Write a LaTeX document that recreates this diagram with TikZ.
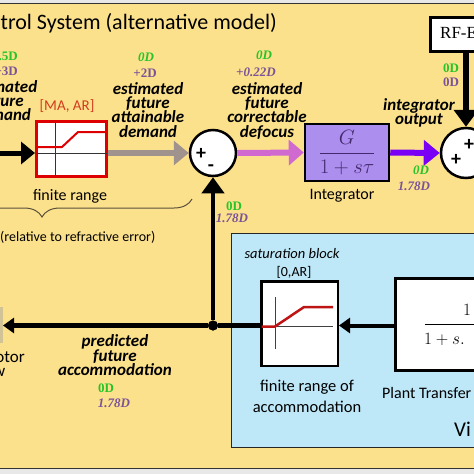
\documentclass[tikz,border=0pt]{standalone}
\usepackage{fontspec}
\setmainfont{Carlito}
\newfontfamily\numfont{Liberation Serif}
\usetikzlibrary{arrows.meta,decorations.pathreplacing}
\definecolor{ybg}{RGB}{252,225,140}
\definecolor{bbg}{RGB}{190,232,248}
\definecolor{pagegray}{RGB}{232,232,232}
\definecolor{redc}{RGB}{222,0,0}
\definecolor{curvered}{RGB}{190,20,20}
\definecolor{mac}{RGB}{210,60,30}
\definecolor{graya}{RGB}{160,146,140}
\definecolor{pinka}{RGB}{208,105,208}
\definecolor{viola}{RGB}{122,0,245}
\definecolor{intc}{RGB}{172,142,238}
\definecolor{fracc}{RGB}{70,40,110}
\definecolor{numg}{RGB}{40,195,40}
\definecolor{nump}{RGB}{122,84,150}
\definecolor{tanc}{RGB}{210,195,150}
\definecolor{brc}{RGB}{90,80,60}
\tikzset{
  lab/.style={font=\fontsize{17}{14.3}\selectfont\bfseries\itshape, align=center, inner sep=0},
  plain/.style={font=\fontsize{16}{20}\selectfont, inner sep=0},
  gnum/.style={text=numg, font=\numfont\fontsize{13}{14}\selectfont\bfseries, inner sep=0},
  gnumi/.style={text=numg, font=\numfont\fontsize{13}{14}\selectfont\bfseries\itshape, inner sep=0},
  pnum/.style={text=nump, font=\numfont\fontsize{13}{14}\selectfont\bfseries, inner sep=0},
  pnumi/.style={text=nump, font=\numfont\fontsize{13}{14}\selectfont\bfseries\itshape, inner sep=0},
  sumc/.style={circle, draw, line width=2.5, fill=white, inner sep=0},
  sgn/.style={font=\fontsize{20}{20}\selectfont\bfseries, inner sep=0},
  blkbox/.style={draw, line width=2.5, fill=white, inner sep=0},
  blkline/.style={line width=4.5},
  inarr/.style={line width=5, -{Triangle[length=14,width=22]}},
  uparr/.style={line width=4.5, -{Triangle[length=16,width=22]}},
  rfarr/.style={line width=5.5, -{Triangle[length=17,width=24]}},
  smarr/.style={line width=4, -{Triangle[length=11,width=15]}},
  grayarr/.style={graya, line width=6, -{Triangle[length=15,width=24]}},
  pinkarr/.style={pinka, line width=6, -{Triangle[length=15,width=25]}},
  violarr/.style={viola, line width=6, -{Triangle[length=16,width=25]}},
}
\begin{document}
\begin{tikzpicture}[x=1pt,y=-1pt]
\useasboundingbox (0,0) rectangle (474,474);
\clip (0,0) rectangle (474,474);
\fill[pagegray] (0,0) rectangle (474,474);
\fill[ybg] (-2,3.5) rectangle (476,468.5);
\draw[black!80, line width=1.3] (-2,3.5) -- (476,3.5);
\draw[black!80, line width=1.3] (-2,468.5) -- (476,468.5);

% title
\node[anchor=base west, inner sep=0, font=\fontsize{22}{26}\selectfont] (title) at (0.5,29) {trol System (alternative model)};

% blue panel
\node[draw=black!85, line width=1.3, fill=bbg, anchor=north west, minimum width=260, minimum height=214, inner sep=0] (vpanel) at (231,233) {};
\node[anchor=base west, inner sep=0, font=\fontsize{21}{24}\selectfont] (vi) at (454,436) {Vi};

% finite range (red) block
\node[draw=redc, line width=3, fill=white, minimum width=70, minimum height=55, inner sep=0] (fr) at (71.5,149) {};
\draw[black!80, line width=0.8] (55,122.5) -- (55,175.5);
\draw[black!80, line width=0.8] (36.5,153) -- (106.5,153);
\draw[redc, line width=2] (36.5,147) -- (62,147) -- (78,132) -- (106.5,132);
\node[text=mac, font=\fontsize{15}{18}\selectfont, inner sep=0] (maar) at (67,106) {[MA, AR]};
\node[plain] (frl) at (70,196) {finite range};

% brace and note
\draw[brc, line width=1, decorate, decoration={brace, amplitude=18, mirror}] (-108,199) -- (192,199);
\node[anchor=east, font=\fontsize{14}{17}\selectfont, inner sep=0] (rel) at (155.5,237) {(relative to refractive error)};

% sums
\node[sumc, minimum size=46] (sumL) at (213,153) {};
\node[sgn] (sL1) at (201,154) {+};
\node[sgn] (sL2) at (211,168) {-};
\node[sumc, minimum size=50] (sumR) at (466,153) {};
\node[sgn] (sR1) at (456,160) {+};
\node[sgn] (sR2) at (469,145) {+};

% integrator
\node[draw, line width=2.5, fill=intc, minimum width=84, minimum height=57, inner sep=0, text=fracc, font=\fontsize{20}{22}\selectfont] (integ) at (347,152.5) {$\displaystyle\frac{G}{1+s\tau}$};
\node[plain] (intl) at (342,196) {Integrator};

% RF box
\node[blkbox, anchor=north west, minimum width=70, minimum height=34] (rf) at (429,16) {};
\node[anchor=base west, inner sep=0, font=\numfont\fontsize{17}{20}\selectfont] (rft) at (440,38) {RF-E};

% saturation block
\node[blkbox, minimum width=76.5, minimum height=84.5] (sat2) at (299.5,323.5) {};
\draw[black!75, line width=0.8] (275,297) -- (275,349);
\draw[black!75, line width=0.8] (275,326.5) -- (333,326.5);
\draw[curvered, line width=2.5] (261.5,326.5) -- (275,326.5) -- (304,307) -- (333,307);
\node[font=\fontsize{14.5}{17}\selectfont\itshape, inner sep=0] (satl) at (292,254) {saturation block};
\node[font=\fontsize{14}{17}\selectfont, inner sep=0] (satr) at (294,272) {[0,AR]};
\node[font=\fontsize{16.5}{21}\selectfont, align=center, inner sep=0] (satn) at (307,396.5) {finite range of\\accommodation};

% plant
\node[draw, line width=3, fill=white, anchor=west, minimum width=110, minimum height=92, inner sep=0] (plant) at (393.5,324.5) {};
\node[inner sep=0, font=\fontsize{19}{20}\selectfont] (pnum) at (467,310) {$1$};
\draw[line width=1.1] (425,324.3) -- (520,324.3);
\node[anchor=west, inner sep=0, font=\fontsize{19}{20}\selectfont] (pden) at (424,339) {$1+s.$};
\node[anchor=base west, font=\fontsize{16}{20}\selectfont, inner sep=0] (pl) at (382,398) {Plant Transfer};

% motor (cut)
\node[fill=tanc, anchor=east, minimum width=30, minimum height=36, inner sep=0] (motor) at (3,325) {};
\node[anchor=base east, font=\fontsize{17}{20}\selectfont, inner sep=0] (mot1) at (25,362) {Motor};
\node[anchor=base east, font=\fontsize{17}{20}\selectfont, inner sep=0] (mot2) at (5.5,376) {w};

% junction
\coordinate (inL) at (-5,153);
\node[circle, fill, inner sep=0, minimum size=10] (jdot) at (213,325.5) {};

% connectors
\draw[inarr] (inL) -- (inL -| fr.west);
\draw[grayarr] (fr.east |- sumL) -- (sumL.west);
\draw[pinkarr] (sumL.east) -- (integ.west);
\draw[violarr] (integ.east) -- (sumR.west);
\draw[rfarr] (rf.south west -| sumR) -- (sumR.north);
\draw[uparr] (jdot) -- (sumL.south);
\draw[smarr] (plant.west |- jdot) -- (sat2.east |- jdot);
\draw[blkline] (sat2.west |- jdot) -- (jdot);
\draw[smarr, line width=4.5] (jdot) -- (motor.east |- jdot);
\node[circle, fill, inner sep=0, minimum size=10] at (jdot) {};

% labels
\node[lab, anchor=north] (l1) at (2,80) {estimated\\future\\demand};
\node[gnum, anchor=east] (n1g) at (18,56) {1.5D};
\node[pnum, anchor=east] (n1p) at (18,71) {+3D};

\node[lab, anchor=north] (l2) at (148,82) {estimated\\future\\attainable\\demand};
\node[gnumi] (n2g) at (146,57) {0D};
\node[pnum] (n2p) at (145,73) {+2D};

\node[lab, anchor=north] (l3) at (267,82) {estimated\\future\\correctable\\defocus};
\node[gnumi] (n3g) at (264,55) {0D};
\node[pnumi] (n3p) at (256,72) {+0.22D};

\node[lab, anchor=north] (l4) at (419,98) {integrator\\output};
\node[gnumi] (n4g) at (421,170) {0D};
\node[pnumi] (n4p) at (414,186) {1.78D};

\node[gnum] (n5g) at (451,68) {0D};
\node[pnum] (n5p) at (451,82) {0D};

\node[gnum] (n6g) at (234,206) {0D};
\node[pnumi] (n6p) at (232,218) {1.78D};

\node[lab, anchor=north] (l7) at (115,334) {predicted\\future\\accommodation};
\node[gnum] (n7g) at (106,388) {0D};
\node[pnumi] (n7p) at (114,403) {1.78D};
\end{tikzpicture}
\end{document}
